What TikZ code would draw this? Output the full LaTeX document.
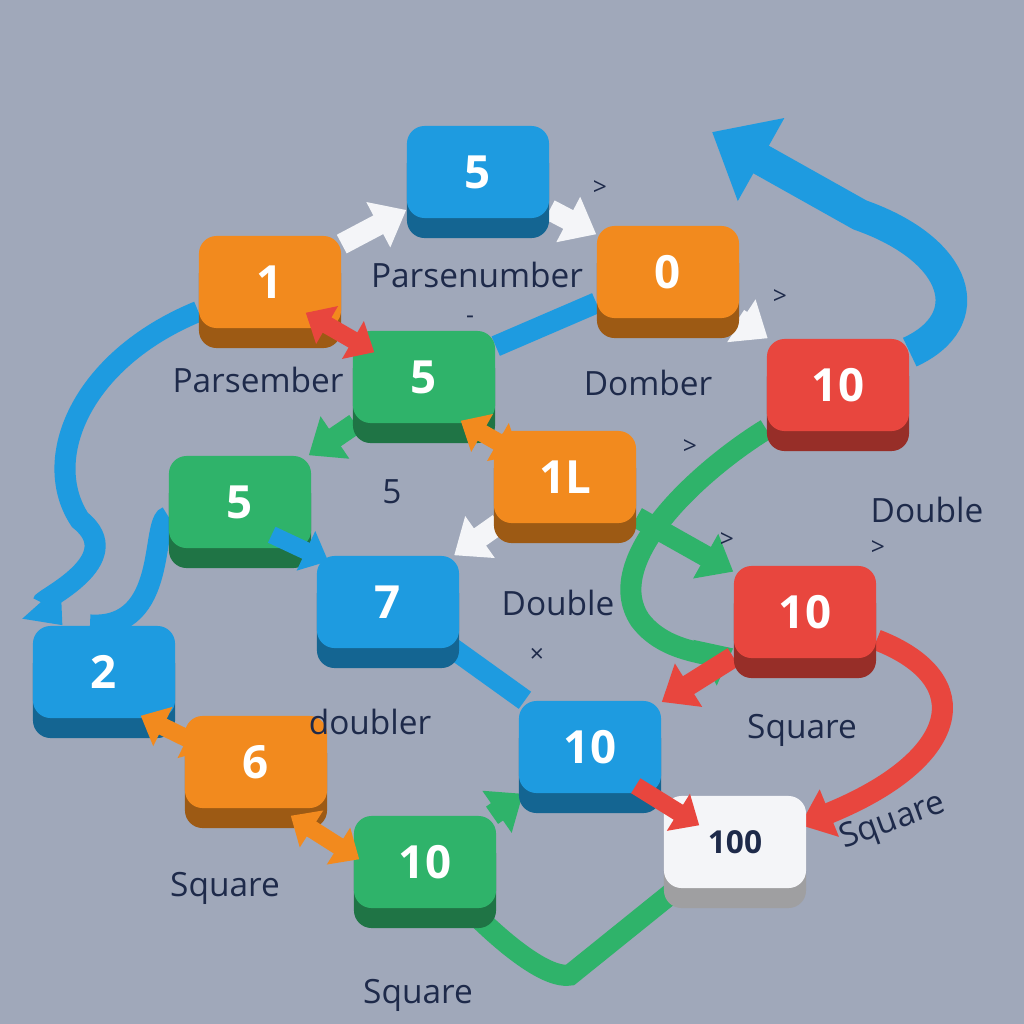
\documentclass[tikz,border=0pt]{standalone}
\usepackage{fontspec}
\setmainfont{Open Sans}
\usetikzlibrary{arrows.meta,shadows}
\pgfdeclarelayer{bg0}
\pgfdeclarelayer{background}
\pgfsetlayers{bg0,background,main}
\definecolor{bg}{HTML}{A0A8BA}
\definecolor{cblue}{HTML}{1E9BE0}
\definecolor{corange}{HTML}{F28A1E}
\definecolor{cgreen}{HTML}{2FB36A}
\definecolor{cred}{HTML}{E8463E}
\definecolor{cwhite}{HTML}{F4F5F8}
\definecolor{ink}{HTML}{1E2A4A}
\tikzset{
 x=0.01cm,y=-0.01cm,
 box/.style={rounded corners=5pt,minimum width=1.42cm,minimum height=0.92cm,fill=#1,
   text=white,font=\bfseries\fontsize{13}{13}\selectfont,
   general shadow={shadow yshift=-0.2cm,fill=#1!65!black}},
 lab/.style={text=ink,font=\fontsize{9.5}{10}\selectfont},
 mk/.style={text=ink,font=\fontsize{7}{7}\selectfont},
 con/.style={line width=6pt,draw=#1,-{Triangle[length=9pt,width=14pt]}},
 conn/.style={line width=6pt,draw=#1},
 bcon/.style={line width=5pt,draw=#1,{Triangle[length=7pt,width=12pt]}-{Triangle[length=7pt,width=12pt]}},
}
\begin{document}
\begin{tikzpicture}
\useasboundingbox (0,0) rectangle (1024,1024);
\begin{pgfonlayer}{bg0}
\fill[bg] (0,0) rectangle (1024,1024);
\end{pgfonlayer}
\node[box=cblue] (A) at (478,172) {5};
\node[box=corange] (B) at (270,282) {1};
\node[box=corange] (C) at (668,272) {0};
\node[box=cred] (D) at (838,385) {10};
\node[box=cgreen] (E) at (424,377) {5};
\node[box=corange] (F) at (565,477) {1L};
\node[box=cgreen] (G) at (240,502) {5};
\node[box=cblue] (H) at (388,602) {7};
\node[box=cred] (I) at (805,612) {10};
\node[box=cblue] (J) at (104,672) {2};
\node[box=corange] (K) at (256,762) {6};
\node[box=cblue] (L) at (590,747) {10};
\node[box=cgreen] (M) at (425,862) {10};
\node[box=cwhite,text=ink,font=\bfseries\fontsize{9}{9}\selectfont] (N) at (735,842) {100};
\coordinate (T) at (712,132);
\begin{pgfonlayer}{background}
\draw[con=cwhite] (B) -- (A);
\draw[con=cwhite] (A) -- (C);
\draw[con=cwhite] (C) -- (D);
\draw[conn=cblue] (E) -- (C);
\draw[con=cgreen] (E) -- (G);
\draw[con=cwhite] (F) -- (H);
\draw[con=cgreen] (F) -- (I);
\draw[con=cgreen] (D) .. controls (700,470) and (600,560) .. (640,620) .. controls (670,660) and (730,650) .. (I);
\draw[conn=cblue] (H) -- (L);
\draw[con=cred] (I) -- (L);
\draw[con=cred] (I) .. controls (980,680) and (960,760) .. (800,825);
\draw[con=cgreen] (M) -- (L);
\draw[conn=cgreen] (M) .. controls (480,920) and (540,980) .. (570,975) -- (N);
\draw[con=cblue] (B) .. controls (80,360) and (40,460) .. (80,520) .. controls (130,560) and (40,600) .. (J);
\draw[conn=cblue] (G) .. controls (150,520) and (170,630) .. (90,625);
\draw[line width=9pt,draw=cblue,-{Triangle[length=16pt,width=26pt]}] (D) .. controls (980,320) and (960,250) .. (860,215) -- (T);
\end{pgfonlayer}
\draw[line width=5pt,draw=cblue,-{Triangle[length=7pt,width=12pt]}] ([shift={(-40,-14)}]G.south east) -- ([shift={(12,6)}]H.north west);
\draw[bcon=cred] ([shift={(-36,-16)}]B.south east) -- ([shift={(22,22)}]E.north west);
\draw[bcon=corange] ([shift={(-35,-3)}]E.south east) -- ([shift={(26,24)}]F.north west);
\draw[bcon=corange] ([shift={(-35,-3)}]J.south east) -- ([shift={(25,34)}]K.north west);
\draw[bcon=corange] ([shift={(-37,7)}]K.south east) -- ([shift={(6,44)}]M.north west);
\draw[line width=5pt,draw=cred,-{Triangle[length=7pt,width=12pt]}] ([shift={(-26,-8)}]L.south east) -- ([shift={(36,30)}]N.north west);
\node[lab] (l1) at (477,275) {Parsenumber};
\node[lab] (l2) at (258,380) {Parsember};
\node[lab] (l3) at (648,383) {Domber};
\node[lab] (l4) at (392,492) {5};
\node[lab] (l5) at (558,603) {Double};
\node[lab] (l6) at (927,510) {Double};
\node[lab] (l7) at (370,722) {doubler};
\node[lab] (l8) at (802,730) {Square};
\node[lab,rotate=20] (l9) at (893,822) {Square};
\node[lab] (l10) at (225,888) {Square};
\node[lab] (l11) at (418,995) {Square};
\node[mk] (m1) at (600,188) {>};
\node[mk] (m2) at (780,297) {>};
\node[mk] (m3) at (470,320) {-};
\node[mk] (m4) at (690,447) {>};
\node[mk] (m5) at (727,540) {>};
\node[mk] (m6) at (878,548) {>};
\node[mk] (m7) at (537,655) {×};
\end{tikzpicture}
\end{document}
